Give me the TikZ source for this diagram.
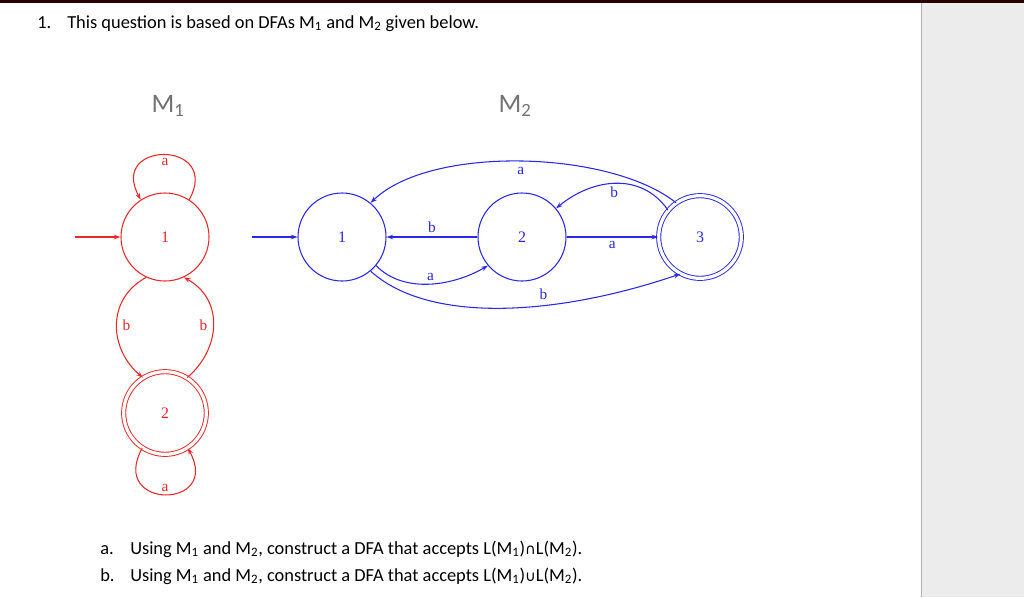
\documentclass[tikz,border=0pt]{standalone}
\usepackage{fontspec}
\setmainfont{Carlito}
\newfontfamily\lbl{Liberation Serif}
\newfontfamily\dv{DejaVu Sans}
\usetikzlibrary{arrows.meta}
\definecolor{rd}{RGB}{235,40,40}
\definecolor{bl}{RGB}{40,40,230}
\begin{document}
\begin{tikzpicture}[x=0.75pt,y=-0.75pt,
  st/.style={circle,draw,line width=0.8pt,minimum size=66pt,inner sep=0pt,font=\lbl\fontsize{12}{14}\selectfont},
  acc/.style={st,double,line width=0.7pt,double distance=2.4pt,minimum size=62pt},
  ed/.style={-{Stealth[length=5pt,width=3.5pt,open]},line width=0.8pt},
  lb/.style={font=\lbl\fontsize{11.5}{13}\selectfont,inner sep=1pt},
  tx/.style={font=\fontsize{13.8}{16}\selectfont,anchor=base west,inner sep=0pt}]
\useasboundingbox (0,0) rectangle (1024,597);
\fill[gray!15] (921,0) rectangle (1024,597);
\draw[gray!60] (921,0) -- (921,597);
\fill[black!85!red] (0,0) rectangle (1024,3);
\node[tx] (t1) at (37,28) {1.};
\node[tx] (t2) at (67,28) {This question is based on DFAs M\textsubscript{1} and M\textsubscript{2} given below.};
\node[font=\fontsize{20}{22}\selectfont,text=gray!90!black] (M1) at (168,106) {M\textsubscript{1}};
\node[font=\fontsize{20}{22}\selectfont,text=gray!90!black] (M2) at (515,106) {M\textsubscript{2}};
\node[tx] (ta) at (100,554) {a.};
\node[tx] (tat) at (130,554) {Using M\textsubscript{1} and M\textsubscript{2}, construct a DFA that accepts L(M\textsubscript{1}){\dv\fontsize{11}{13}\selectfont ∩}L(M\textsubscript{2}).};
\node[tx] (tb) at (100,581) {b.};
\node[tx] (tbt) at (130,581) {Using M\textsubscript{1} and M\textsubscript{2}, construct a DFA that accepts L(M\textsubscript{1}){\dv\fontsize{11}{13}\selectfont ∪}L(M\textsubscript{2}).};
% M1
\begin{scope}[rd,text=rd]
\node[st] (a1) at (165,237) {1};
\node[acc] (a2) at (165,413) {2};
\coordinate (a0) at (75,237);
\draw[ed] (a0) -- (a1);
\draw[ed] (a1.57) .. controls (222,140) and (108,140) .. node[lb,pos=0.5,below=1pt]{a} (a1.123);
\draw[ed] (a2.237) .. controls (108,510) and (222,510) .. node[lb,pos=0.5,above=1pt]{a} (a2.303);
\draw[ed] (a1.245) .. controls (105,300) and (110,350) .. node[lb,pos=0.5,right=3pt]{b} (a2.122);
\draw[ed] (a2.58) .. controls (220,350) and (225,300) .. node[lb,pos=0.5,left=3pt]{b} (a1.295);
\end{scope}
% M2
\begin{scope}[bl,text=bl]
\node[st] (b1) at (342,237) {1};
\node[st] (b2) at (522,237) {2};
\node[acc] (b3) at (700,237) {3};
\coordinate (b0) at (252,237);
\draw[ed] (b0) -- (b1);
\draw[ed] (b2) -- node[lb,above=2pt]{b} (b1);
\draw[ed] (b2) -- node[lb,below=2pt]{a} (b3);
\draw[ed] (b1.-40) .. controls (405,295) and (455,285) .. node[lb,pos=0.5,above=1pt]{a} (b2.-140);
\draw[ed] (b3.140) .. controls (640,170) and (590,180) .. node[lb,pos=0.5,below=1pt]{b} (b2.40);
\draw[ed] (b3.125) .. controls (610,150) and (430,145) .. node[lb,pos=0.5,below=3pt]{a} (b1.50);
\draw[ed] (b1.-50) .. controls (430,325) and (560,315) .. node[lb,pos=0.62,above=3pt]{b} (b3.-118);
\end{scope}
\end{tikzpicture}
\end{document}
